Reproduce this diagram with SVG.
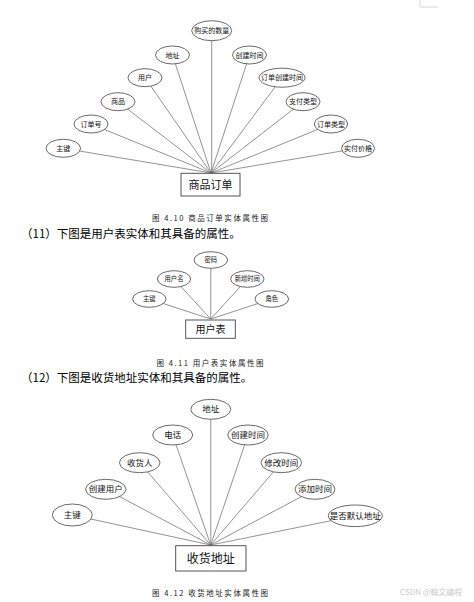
<svg xmlns="http://www.w3.org/2000/svg" width="474" height="602" viewBox="0 0 474 602">
<style>
.bg{fill:#fff}
.e{fill:#fff;stroke:#444;stroke-width:0.8}
.r{fill:#fff;stroke:#444;stroke-width:0.9}
.c line{stroke:#666;stroke-width:0.7}
text{font-family:"Noto Sans CJK SC","Liberation Sans",sans-serif;fill:#111;text-anchor:middle}
.t1{font-size:7px}
.t2{font-size:6.3px}
.t3{font-size:8.5px}
.big1{font-size:11px}
.big2{font-size:10px}
.big3{font-size:12px}
.cap{font-size:7.5px;fill:#222}
.head{font-size:11.5px;text-anchor:start;fill:#000}
.wm{font-size:8px;fill:#ccc;text-anchor:start}
</style>
<rect class="bg" x="0" y="0" width="474" height="602"/>
<path d="M420 0V7H438" fill="none" stroke="#ccc" stroke-width="0.8"/>

<!-- Diagram 1 connectors -->
<g id="connectors1" class="c">
<line x1="63.3" y1="148.3" x2="211" y2="173"/>
<line x1="91" y1="124" x2="211" y2="173"/>
<line x1="118" y1="101.7" x2="211" y2="173"/>
<line x1="145" y1="77.7" x2="211" y2="173"/>
<line x1="172.5" y1="55" x2="211" y2="173"/>
<line x1="211.7" y1="30.7" x2="211.7" y2="173"/>
<line x1="249.5" y1="55" x2="211" y2="173"/>
<line x1="282" y1="77.7" x2="211" y2="173"/>
<line x1="303" y1="101.7" x2="211" y2="173"/>
<line x1="331" y1="124" x2="211" y2="173"/>
<line x1="358" y1="148.3" x2="211" y2="173"/>
</g>
<g id="n1-zhujian"><ellipse class="e" cx="63.3" cy="148.3" rx="17.3" ry="9"/><text class="t1" x="63.3" y="150.8">主键</text></g>
<g id="n1-dingdanhao"><ellipse class="e" cx="91" cy="124" rx="17" ry="9"/><text class="t1" x="91" y="126.5">订单号</text></g>
<g id="n1-shangpin"><ellipse class="e" cx="118" cy="101.7" rx="17" ry="9"/><text class="t1" x="118" y="104.2">商品</text></g>
<g id="n1-yonghu"><ellipse class="e" cx="145" cy="77.7" rx="17" ry="9"/><text class="t1" x="145" y="80.2">用户</text></g>
<g id="n1-dizhi"><ellipse class="e" cx="172.5" cy="55" rx="17" ry="9"/><text class="t1" x="172.5" y="57.5">地址</text></g>
<g id="n1-shuliang"><ellipse class="e" cx="211.7" cy="30.7" rx="20" ry="10"/><text class="t1" x="211.7" y="33.2">购买的数量</text></g>
<g id="n1-chuangjian"><ellipse class="e" cx="249.5" cy="55" rx="17" ry="9"/><text class="t1" x="249.5" y="57.5">创建时间</text></g>
<g id="n1-ddcj"><ellipse class="e" cx="282" cy="77.7" rx="23" ry="9.5"/><text class="t1" x="282" y="80.2">订单创建时间</text></g>
<g id="n1-zhifu"><ellipse class="e" cx="303" cy="101.7" rx="17" ry="9"/><text class="t1" x="303" y="104.2">支付类型</text></g>
<g id="n1-ddlx"><ellipse class="e" cx="331" cy="124" rx="16.7" ry="9"/><text class="t1" x="331" y="126.5">订单类型</text></g>
<g id="n1-shifu"><ellipse class="e" cx="358" cy="148.3" rx="16.5" ry="9"/><text class="t1" x="358" y="150.8">实付价格</text></g>
<g id="n1-entity"><rect class="r" x="181" y="173.3" width="59" height="22.7"/><text class="big1" x="210.5" y="188.6">商品订单</text></g>

<text class="cap" x="210" y="220.8" textLength="116" lengthAdjust="spacing">图 4.10 商品订单实体属性图</text>
<text class="head" x="21" y="237.5">（11）下图是用户表实体和其具备的属性。</text>

<!-- Diagram 2 connectors -->
<g id="connectors2" class="c">
<line x1="149.3" y1="299" x2="210.7" y2="319"/>
<line x1="174" y1="279" x2="210.7" y2="319"/>
<line x1="210.8" y1="260" x2="210.8" y2="319"/>
<line x1="247.3" y1="279" x2="210.7" y2="319"/>
<line x1="271.8" y1="299" x2="210.7" y2="319"/>
</g>
<g id="n2-zhujian"><ellipse class="e" cx="149.3" cy="299" rx="16.7" ry="8.3"/><text class="t2" x="149.3" y="301.3">主键</text></g>
<g id="n2-yonghuming"><ellipse class="e" cx="174" cy="279" rx="16.7" ry="8.3"/><text class="t2" x="174" y="281.3">用户名</text></g>
<g id="n2-mima"><ellipse class="e" cx="210.8" cy="260" rx="16.8" ry="8.3"/><text class="t2" x="210.8" y="262.3">密码</text></g>
<g id="n2-xinzeng"><ellipse class="e" cx="247.3" cy="279" rx="16.7" ry="8.3"/><text class="t2" x="247.3" y="281.3">新增时间</text></g>
<g id="n2-juese"><ellipse class="e" cx="271.8" cy="299" rx="16.8" ry="8.3"/><text class="t2" x="271.8" y="301.3">角色</text></g>
<g id="n2-entity"><rect class="r" x="185.7" y="320" width="49.6" height="18.3"/><text class="big2" x="210.5" y="332.6">用户表</text></g>

<text class="cap" x="210" y="366" textLength="107" lengthAdjust="spacing">图 4.11 用户表实体属性图</text>
<text class="head" x="21" y="381.5">（12）下图是收货地址实体和其具备的属性。</text>

<!-- Diagram 3 connectors -->
<g id="connectors3" class="c">
<line x1="72.3" y1="515" x2="210.7" y2="545"/>
<line x1="105.8" y1="489.3" x2="210.7" y2="545"/>
<line x1="139.7" y1="462.7" x2="210.7" y2="545"/>
<line x1="172.7" y1="435" x2="210.7" y2="545"/>
<line x1="210.8" y1="409.3" x2="210.8" y2="545"/>
<line x1="248" y1="435" x2="210.7" y2="545"/>
<line x1="281.3" y1="462.7" x2="210.7" y2="545"/>
<line x1="315" y1="489.3" x2="210.7" y2="545"/>
<line x1="355.3" y1="515.8" x2="210.7" y2="545"/>
</g>
<g id="n3-zhujian"><ellipse class="e" cx="72.3" cy="515" rx="20" ry="11"/><text class="t3" x="72.3" y="518">主键</text></g>
<g id="n3-cjyh"><ellipse class="e" cx="105.8" cy="489.3" rx="20.2" ry="10"/><text class="t3" x="105.8" y="492.3">创建用户</text></g>
<g id="n3-shouhuoren"><ellipse class="e" cx="139.7" cy="462.7" rx="20.3" ry="10"/><text class="t3" x="139.7" y="465.7">收货人</text></g>
<g id="n3-dianhua"><ellipse class="e" cx="172.7" cy="435" rx="20" ry="10"/><text class="t3" x="172.7" y="438">电话</text></g>
<g id="n3-dizhi"><ellipse class="e" cx="210.8" cy="409.3" rx="20" ry="10"/><text class="t3" x="210.8" y="412.3">地址</text></g>
<g id="n3-cjsj"><ellipse class="e" cx="248" cy="435" rx="20.3" ry="10"/><text class="t3" x="248" y="438">创建时间</text></g>
<g id="n3-xgsj"><ellipse class="e" cx="281.3" cy="462.7" rx="20.3" ry="10"/><text class="t3" x="281.3" y="465.7">修改时间</text></g>
<g id="n3-tjsj"><ellipse class="e" cx="315" cy="489.3" rx="20" ry="10"/><text class="t3" x="315" y="492.3">添加时间</text></g>
<g id="n3-moren"><ellipse class="e" cx="355.3" cy="515.8" rx="27" ry="10.8"/><text class="t3" x="355.3" y="518.8">是否默认地址</text></g>
<g id="n3-entity"><rect class="r" x="175.7" y="545.7" width="70.3" height="25.3"/><text class="big3" x="210.8" y="562.5">收货地址</text></g>

<text class="cap" x="210" y="596" textLength="116" lengthAdjust="spacing">图 4.12 收货地址实体属性图</text>
<text class="wm" x="400" y="595">CSDN @翰文编程</text>
</svg>
